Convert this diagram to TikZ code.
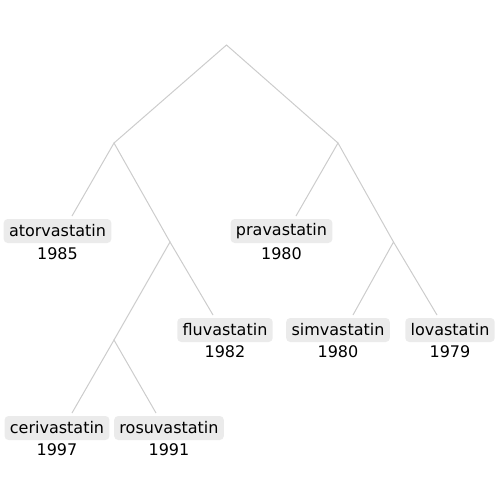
\documentclass[tikz,border=0pt]{standalone}
\usepackage{fontspec}
\setmainfont{DejaVu Sans}
\definecolor{edgegray}{HTML}{CCCCCC}
\definecolor{boxgray}{HTML}{EBEBEB}
\begin{document}
\begin{tikzpicture}[x=0.75pt,y=-0.75pt,
  edge/.style={draw=edgegray,line width=0.75pt},
  namebox/.style={fill=boxgray,rounded corners=3pt,inner xsep=4pt,inner ysep=0pt,minimum height=18pt,font=\fontsize{12}{14}\selectfont},
  yearlbl/.style={inner sep=1pt,font=\fontsize{12}{14}\selectfont}]
\useasboundingbox (0,0) rectangle (500,500);
% internal nodes
\coordinate (root) at (226.5,45);
\coordinate (L) at (114,143);
\coordinate (R) at (338,143);
\coordinate (LR) at (170,242);
\coordinate (LRL) at (114,340);
\coordinate (RR) at (393.5,242);
% leaf tips
\coordinate (tAtor) at (72,216);
\coordinate (tPrav) at (296,216);
\coordinate (tFluv) at (213,315);
\coordinate (tSimv) at (353,315);
\coordinate (tLova) at (437,315);
\coordinate (tCeri) at (72,413);
\coordinate (tRosu) at (156,413);
% edges
\draw[edge] (L) -- (root) -- (R);
\draw[edge] (tAtor) -- (L) -- (LR);
\draw[edge] (LRL) -- (LR) -- (tFluv);
\draw[edge] (tCeri) -- (LRL) -- (tRosu);
\draw[edge] (tPrav) -- (R) -- (RR);
\draw[edge] (tSimv) -- (RR) -- (tLova);
% labels
\node[namebox] (ator) at (57.5,231) {atorvastatin};
\node[yearlbl] (atorY) at (57.5,253.5) {1985};
\node[namebox] (prav) at (281.5,231) {pravastatin};
\node[yearlbl] (pravY) at (281.5,253.5) {1980};
\node[namebox] (fluv) at (225,330) {fluvastatin};
\node[yearlbl] (fluvY) at (225,352) {1982};
\node[namebox] (simv) at (338,330) {simvastatin};
\node[yearlbl] (simvY) at (338,352) {1980};
\node[namebox] (lova) at (450,330) {lovastatin};
\node[yearlbl] (lovaY) at (450,352) {1979};
\node[namebox] (ceri) at (57,428) {cerivastatin};
\node[yearlbl] (ceriY) at (57,450) {1997};
\node[namebox] (rosu) at (169,428) {rosuvastatin};
\node[yearlbl] (rosuY) at (169,450) {1991};
\end{tikzpicture}
\end{document}
